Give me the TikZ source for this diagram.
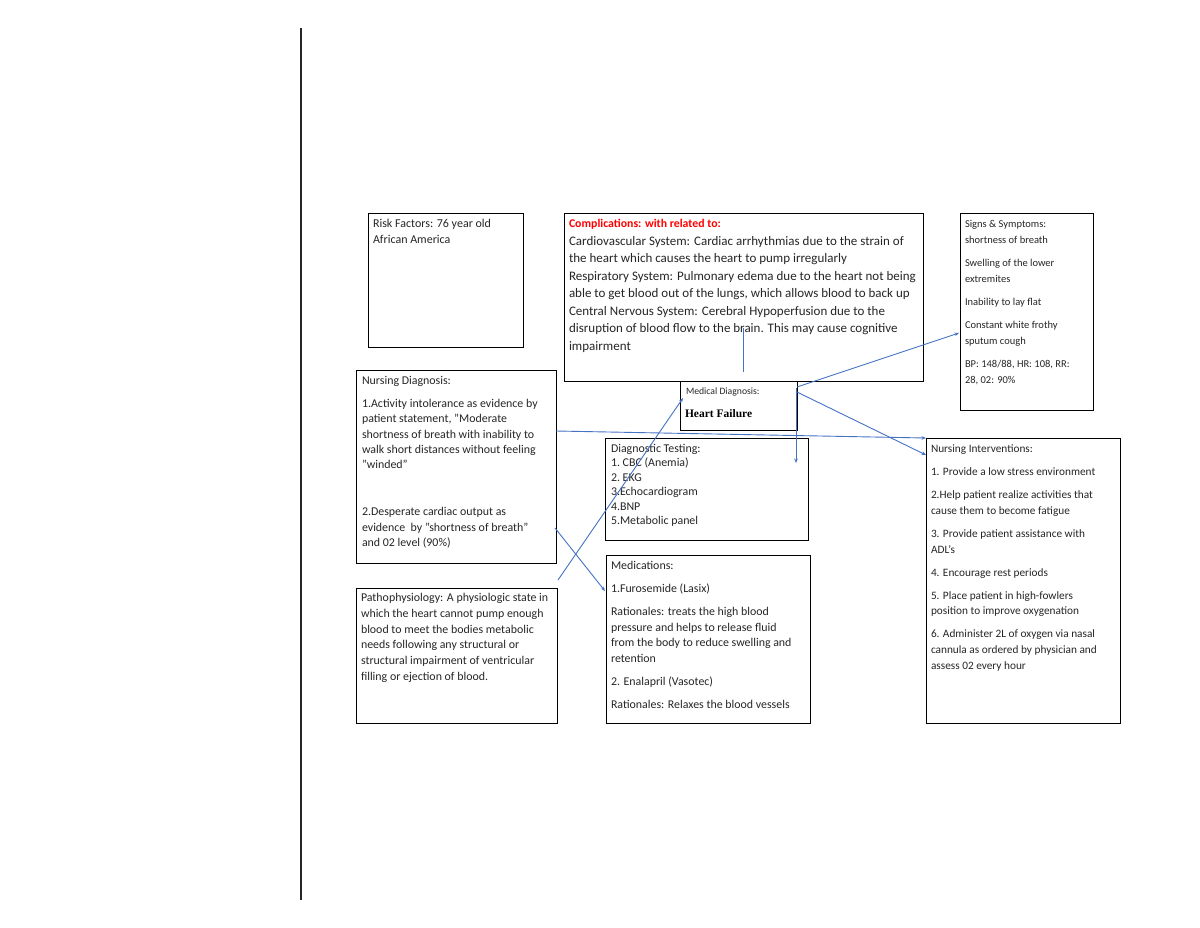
\documentclass[tikz,border=0pt]{standalone}
\usepackage{fontspec}
\setmainfont{Carlito}
\newfontfamily\hfserif{Liberation Serif}
\usetikzlibrary{arrows.meta,calc}
\definecolor{linkblue}{HTML}{4472C4}
\definecolor{compred}{HTML}{FF0000}
\newcommand{\fststrut}{\rule{0pt}{10pt}}
\begin{document}
\begin{tikzpicture}[x=1pt,y=-1pt,
  box/.style={draw=black,line width=0.95pt,anchor=north west,inner sep=0pt,outer sep=0pt},
  txt/.style={anchor=north west,inner sep=0pt,outer sep=0pt,align=left,text=black!85,font=\fontsize{11.9}{15.6}\selectfont},
  link/.style={draw=linkblue,line width=0.9pt},
  arr/.style={link,-{Stealth[length=4.5pt,width=3.6pt]}}]
\fill[white] (0,0) rectangle (1200,927);
\useasboundingbox (0,0) rectangle (1200,927);

% left margin rule
\draw[line width=1.6pt,black!85] (301,28) -- (301,900);

% boxes
\node[box,minimum width=155pt,minimum height=134pt] (rf) at (368,213) {};
\node[box,minimum width=359pt,minimum height=168pt] (cp) at (564,213) {};
\node[box,minimum width=133pt,minimum height=197pt] (ss) at (960,213) {};
\node[box,minimum width=200pt,minimum height=193pt] (nd) at (356,370) {};
\node[box,minimum width=117pt,minimum height=49pt] (md) at (680,381) {};
\node[box,minimum width=203pt,minimum height=102pt] (dt) at (605,438) {};
\node[box,minimum width=194pt,minimum height=285pt] (ni) at (926,438) {};
\node[box,minimum width=204pt,minimum height=168pt] (me) at (606,555) {};
\node[box,minimum width=201pt,minimum height=135pt] (pp) at (356,588) {};

% texts (north west placed 10pt above the first baseline)
\node[txt,font=\fontsize{12}{16}\selectfont] (rft) at (373,217.5) {\fststrut Risk Factors: 76 year old\\African America};

\node[txt,text=compred,font=\fontsize{11.8}{15.6}\selectfont\bfseries] (cph) at (569,217) {\fststrut Complications: with related to:};
\node[txt,font=\fontsize{13}{17.5}\selectfont] (cpt) at (569,234) {\rule{0pt}{11pt}Cardiovascular System: Cardiac arrhythmias due to the strain of\\
the heart which causes the heart to pump irregularly\\
Respiratory System: Pulmonary edema due to the heart not being\\
able to get blood out of the lungs, which allows blood to back up\\
Central Nervous System: Cerebral Hypoperfusion due to the\\
disruption of blood flow to the brain. This may cause cognitive\\
impairment};

\node[txt,font=\fontsize{10.5}{16}\selectfont] (sst) at (965,217.5) {\fststrut Signs \& Symptoms:\\shortness of breath\\[7pt]
Swelling of the lower\\extremites\\[7pt]
Inability to lay flat\\[7pt]
Constant white frothy\\sputum cough\\[7pt]
BP: 148/88, HR: 108, RR:\\28, 02: 90\%};

\node[txt,font=\fontsize{11.9}{15.3}\selectfont] (ndt) at (362,374.5) {\fststrut Nursing Diagnosis:\\[7.7pt]
1.Activity intolerance as evidence by\\
patient statement, "Moderate\\
shortness of breath with inability to\\
walk short distances without feeling\\
"winded"\\[31.7pt]
2.Desperate cardiac output as\\
evidence\ \ by "shortness of breath"\\
and 02 level (90\%)};

\node[txt,font=\fontsize{9.7}{10}\selectfont] (mdl) at (686,386) {\rule{0pt}{8pt}Medical Diagnosis:};
\node[txt,text=black,font=\fontsize{11.5}{13}\selectfont\hfserif\bfseries] (mdt) at (685,407) {\rule{0pt}{10pt}Heart Failure};

\node[txt,font=\fontsize{11.9}{14.4}\selectfont] (dtt) at (611,442.5) {\fststrut Diagnostic Testing:\\
1.\ CBC (Anemia)\\
2.\ EKG\\
3.Echocardiogram\\
4.BNP\\
5.Metabolic panel};

\node[txt,font=\fontsize{11.3}{15.6}\selectfont] (nit) at (931,442.5) {\fststrut Nursing Interventions:\\[7.5pt]
1. Provide a low stress environment\\[7.5pt]
2.Help patient realize activities that\\cause them to become fatigue\\[7.5pt]
3. Provide patient assistance with\\ADL’s\\[7.5pt]
4. Encourage rest periods\\[7.5pt]
5. Place patient in high-fowlers\\position to improve oxygenation\\[7.5pt]
6. Administer 2L of oxygen via nasal\\cannula as ordered by physician and\\assess 02 every hour};

\node[txt] (met) at (611,559.5) {\fststrut Medications:\\[7.4pt]
1.Furosemide (Lasix)\\[7.4pt]
Rationales: treats the high blood\\
pressure and helps to release fluid\\
from the body to reduce swelling and\\
retention\\[7.4pt]
2. Enalapril (Vasotec)\\[7.4pt]
Rationales: Relaxes the blood vessels};

\node[txt,font=\fontsize{11.9}{15.8}\selectfont] (ppt) at (361,591.5) {\fststrut Pathophysiology: A physiologic state in\\
which the heart cannot pump enough\\
blood to meet the bodies metabolic\\
needs following any structural or\\
structural impairment of ventricular\\
filling or ejection of blood.};

% connectors
\coordinate (cpa) at (743,328);
\coordinate (cpb) at (743,372);
\draw[link] (cpa) -- (cpb);

\draw[arr] ($(md.north east)+(0,6)$) -- ($(ss.north west)+(-1,120)$);
\draw[arr] ($(md.north east)+(-1,7)$) -- ($(dt.north east)+(-12,25)$);
\draw[arr] ($(md.north east)+(0,11)$) -- ($(ni.north west)+(0,17)$);
\draw[arr] ($(nd.north east)+(0,61)$) -- ($(ni.north west)+(0,0)$);
\coordinate (ppa) at (558,580);
\draw[arr] (ppa) -- ($(md.north west)+(3,17)$);
\draw[arr] ($(nd.north east)+(-1,158)$) -- ($(me.north west)+(-1,36)$);
\end{tikzpicture}
\end{document}
